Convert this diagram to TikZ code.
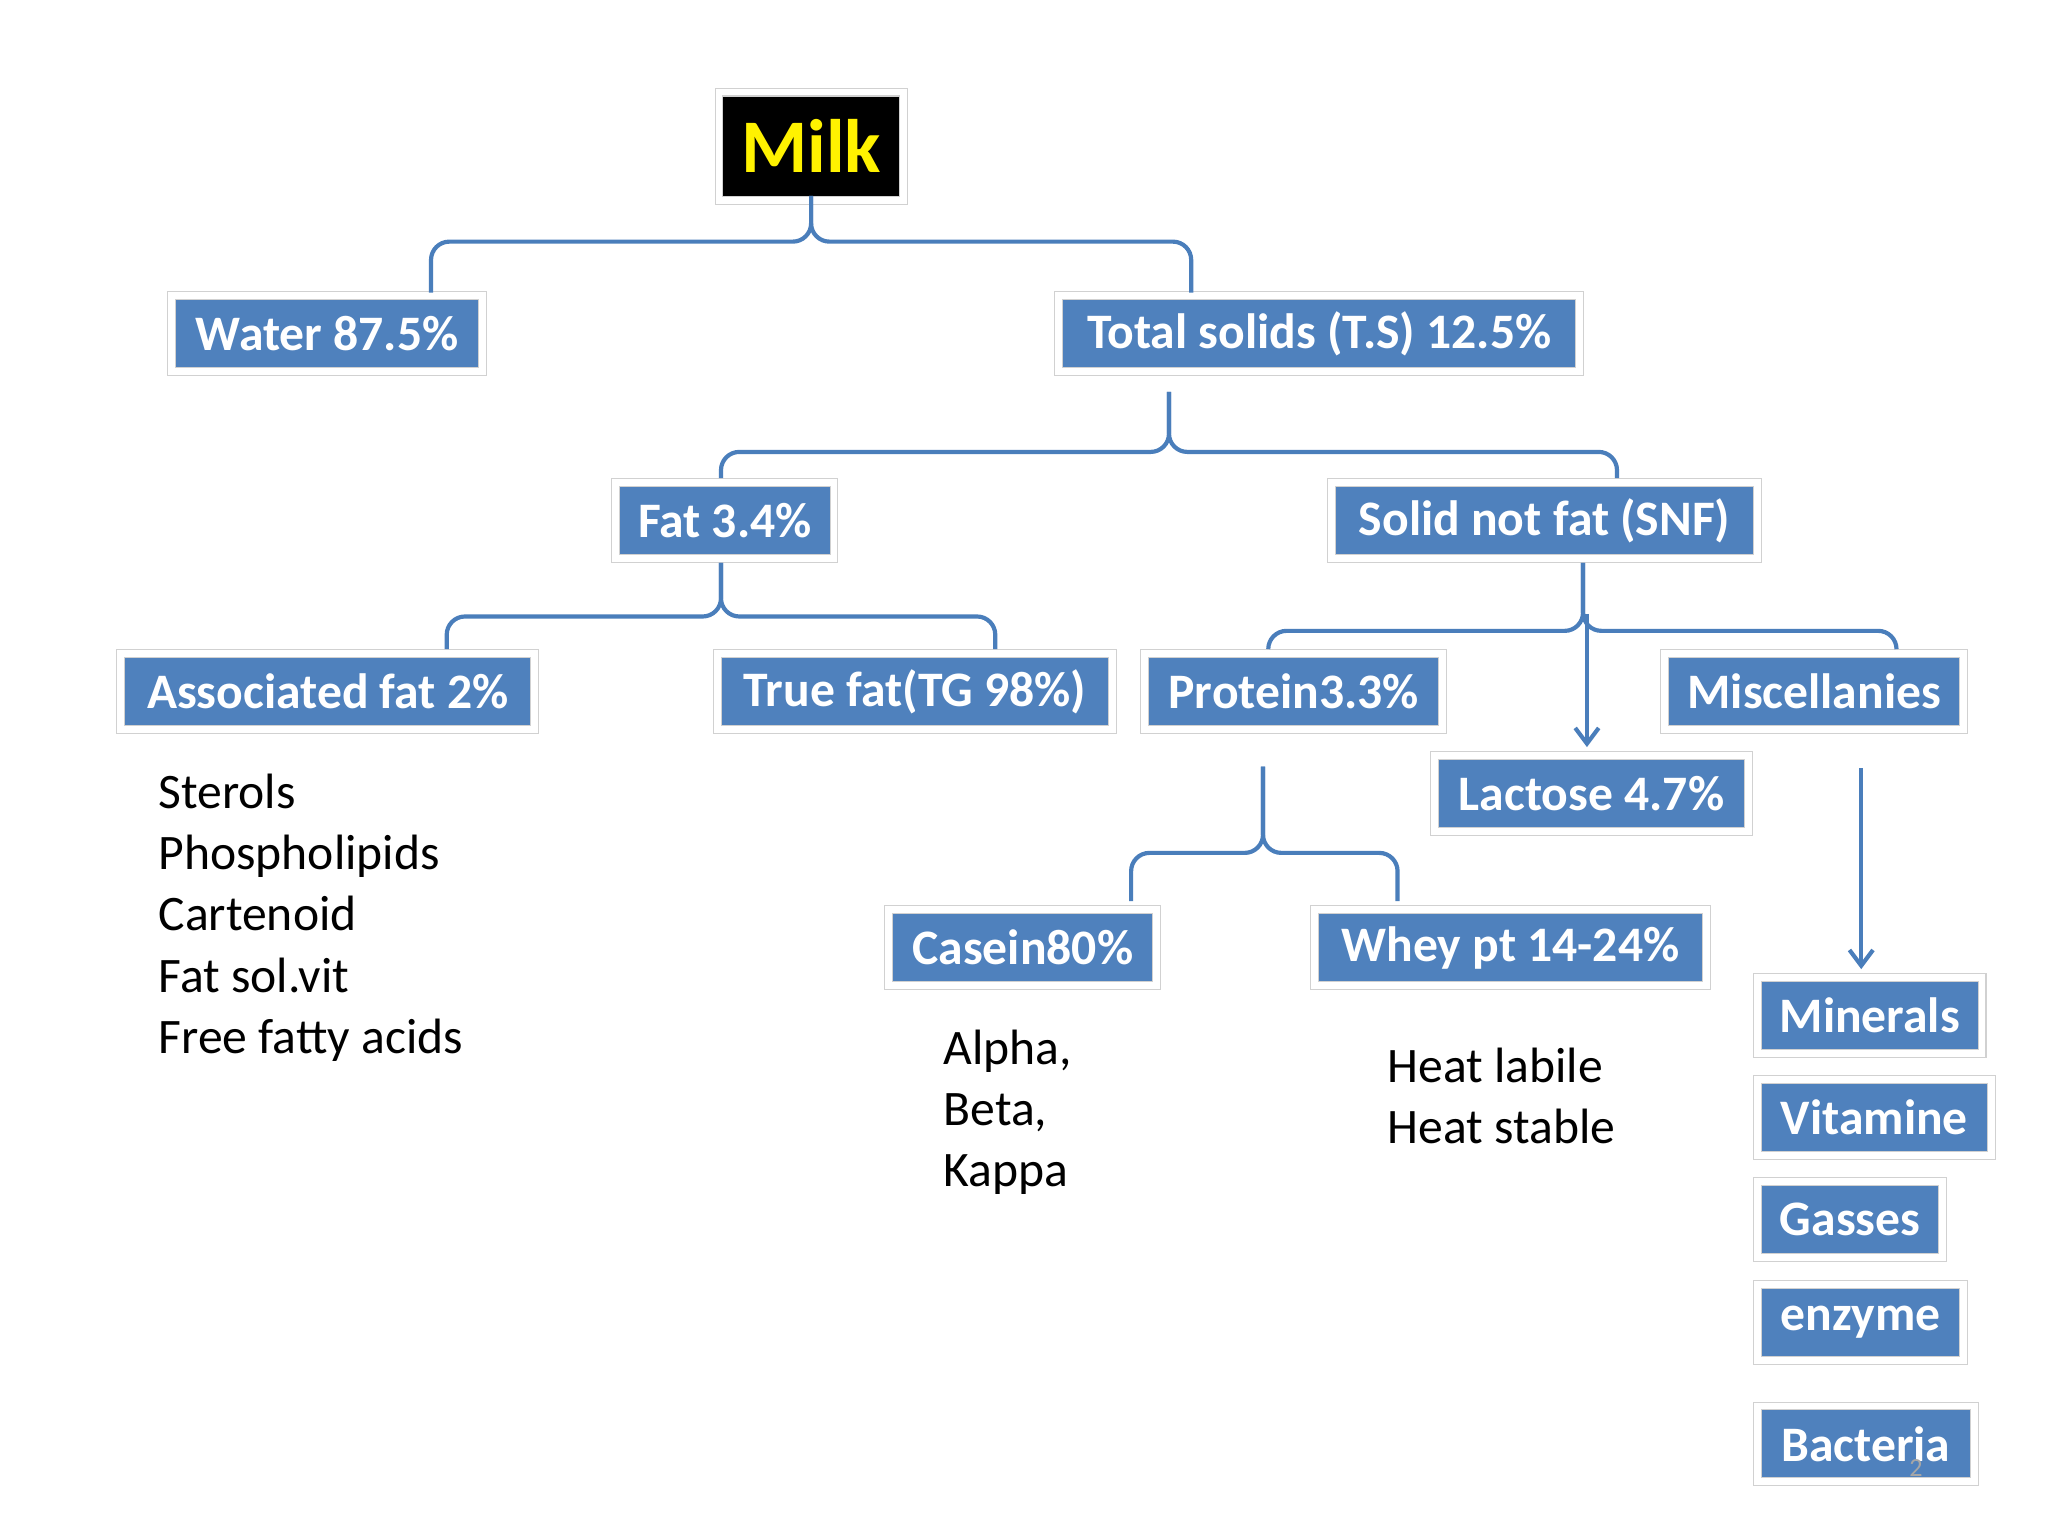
\documentclass[tikz,border=0pt]{standalone}
\usepackage{fontspec}
\setmainfont{Carlito}
\usetikzlibrary{shadows,arrows.meta}
\definecolor{bx}{HTML}{4F81BD}
\definecolor{ln}{HTML}{4A7EBB}
\tikzset{
 box/.style={fill=bx,draw=black!18,line width=0.4pt,double=white,double distance=2.6pt,text=white,font=\bfseries\fontsize{19}{21}\selectfont,
   inner sep=0pt,drop shadow={shadow xshift=0.8pt,shadow yshift=-1.5pt,fill=black!35,opacity=0.4}},
 conn/.style={draw=ln,line width=1.6pt,rounded corners=7pt},
 arr/.style={draw=ln,line width=1.6pt,-{Straight Barb[length=6pt,width=9pt]}},
 lst/.style={font=\fontsize{19}{23.5}\selectfont,align=left,anchor=north west,inner sep=0pt}
}
\newcommand\bxn[7][box]{\node[#1,minimum width={(#5-#3-7)*0.5pt},minimum height={(#6-#4-7)*0.5pt}] (#2) at ({(#3+#5)/2},{(#4+#6)/2}) {#7};}
\begin{document}
\begin{tikzpicture}[x=0.5pt,y=-0.5pt]
\useasboundingbox[fill=white] (0,0) rectangle (1568,1176);
\bxn[box,fill=black,text=yellow,font=\bfseries\fontsize{29}{31}\selectfont]{milk}{547}{67}{695}{157}{Milk}
\bxn{water}{128}{223}{373}{288}{Water 87.5\%}
\bxn{ts}{807}{223}{1213}{288}{Total solids (T.S) 12.5\%}
\bxn{fat}{468}{366}{642}{431}{Fat 3.4\%}
\bxn{snf}{1016}{366}{1349}{431}{Solid not fat (SNF)}
\bxn{assoc}{89}{497}{413}{562}{Associated fat 2\%}
\bxn{true}{546}{497}{855}{562}{True fat(TG 98\%)}
\bxn{prot}{873}{497}{1108}{562}{Protein3.3\%}
\bxn{misc}{1271}{497}{1507}{562}{Miscellanies}
\bxn{lact}{1095}{575}{1342}{640}{Lactose 4.7\%}
\bxn{cas}{677}{693}{889}{758}{Casein80\%}
\bxn{whey}{1003}{693}{1310}{758}{Whey pt 14-24\%}
\bxn{min}{1342}{745}{1521}{810}{Minerals}
\bxn{vit}{1342}{823}{1528}{888}{Vitamine}
\bxn{gas}{1342}{901}{1491}{966}{Gasses}
\bxn{enz}{1342}{980}{1507}{1045}{enzyme}
\bxn{bac}{1342}{1073}{1515}{1138}{Bacteria}
\node[text=gray!70,font=\fontsize{10}{10}\selectfont] (pg) at (1467,1124) {2};
% braces
\coordinate (m0) at (621,150);
\draw[conn] (330,224) -- (330,185) -- (621,185) -- (m0);
\draw[conn] (912,224) -- (912,185) -- (621,185) -- (m0);
\coordinate (t0) at (895,300);
\draw[conn] (552,366) -- (552,346) -- (895,346) -- (t0);
\draw[conn] (1238,366) -- (1238,346) -- (895,346) -- (t0);
\coordinate (f0) at (552,431);
\draw[conn] (342,497) -- (342,472) -- (552,472) -- (f0);
\draw[conn] (762,497) -- (762,472) -- (552,472) -- (f0);
\coordinate (s0) at (1212,431);
\draw[conn] (971,497) -- (971,483) -- (1212,483) -- (s0);
\draw[conn] (1452,497) -- (1452,483) -- (1212,483) -- (s0);
\draw[arr] (1215,470) -- (1215,572);
\coordinate (p0) at (967,587);
\draw[conn] (866,690) -- (866,653) -- (967,653) -- (p0);
\draw[conn] (1070,690) -- (1070,653) -- (967,653) -- (p0);
\draw[arr] (1425,588) -- (1425,742);
% lists
\node[lst] (l1) at (121,592) {Sterols\\Phospholipids\\Cartenoid\\Fat sol.vit\\Free fatty acids};
\node[lst] (l2) at (722,788) {Alpha,\\Beta,\\Kappa};
\node[lst] (l3) at (1062,802) {Heat labile\\Heat stable};
\end{tikzpicture}
\end{document}
